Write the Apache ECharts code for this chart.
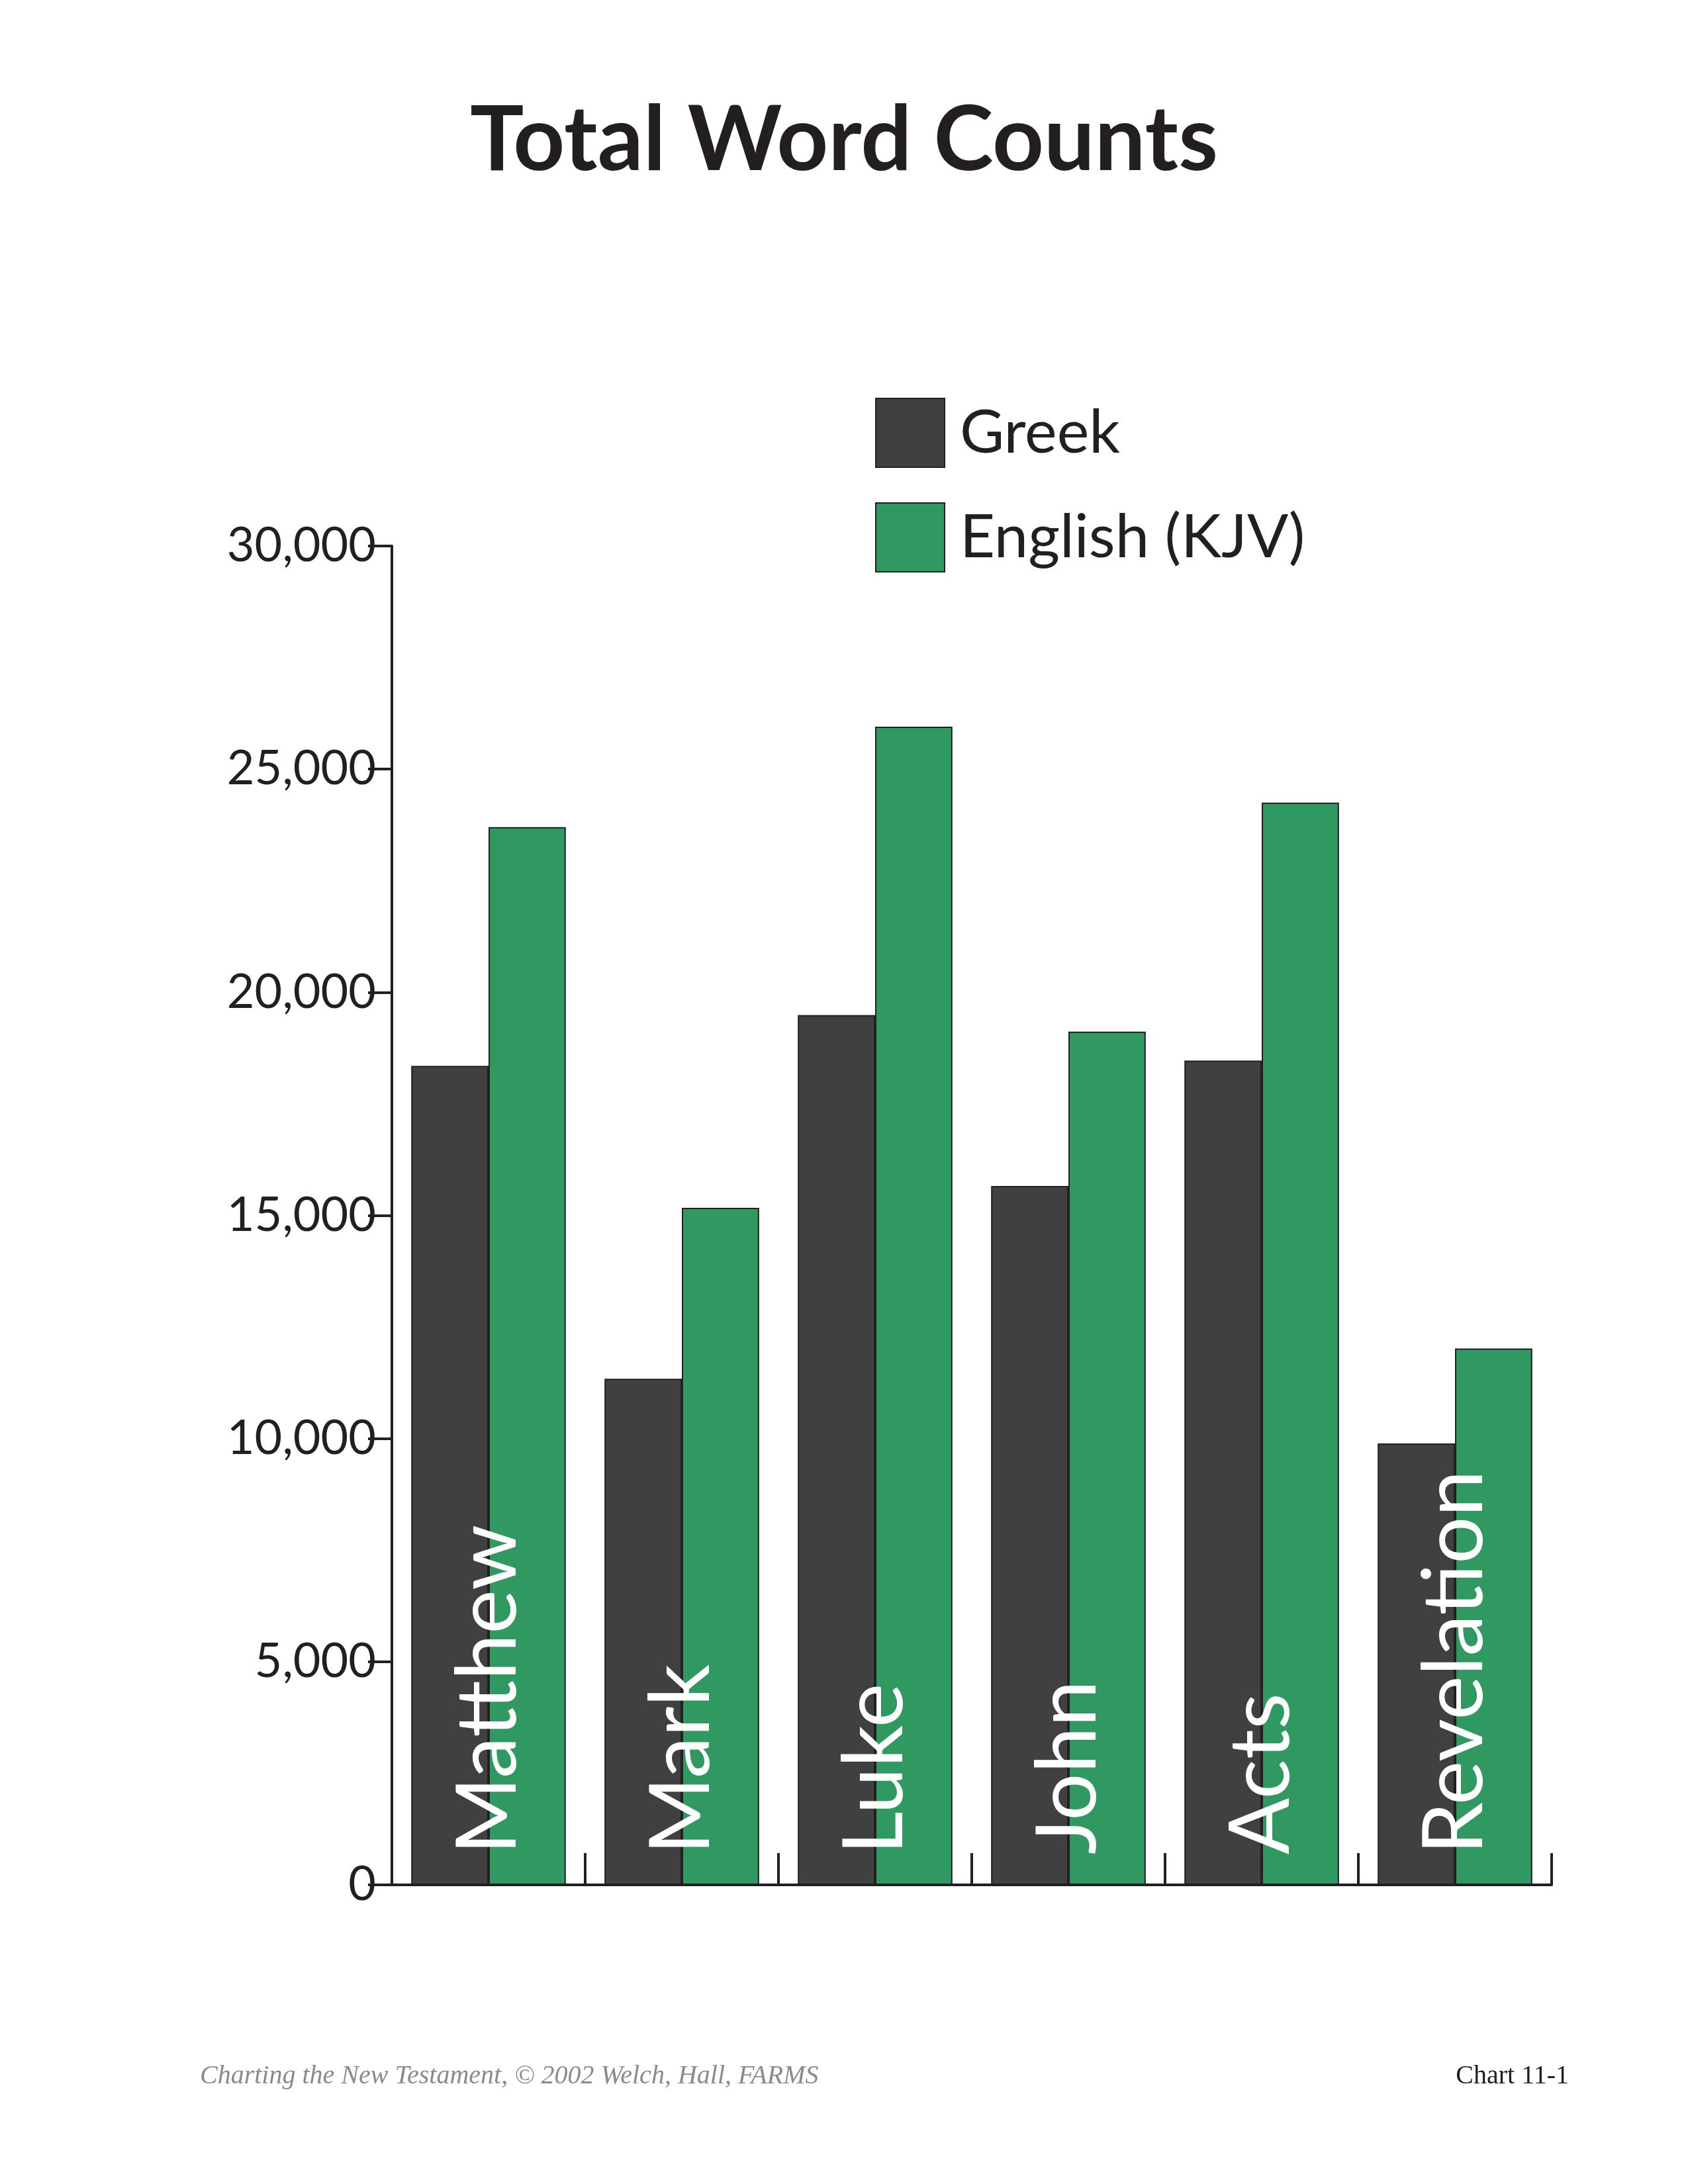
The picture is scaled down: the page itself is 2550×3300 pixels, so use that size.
<!DOCTYPE html>
<html>
<head>
<meta charset="utf-8">
<script src="https://cdn.jsdelivr.net/npm/echarts@6/dist/echarts.min.js"></script>
<style>html,body{margin:0;padding:0;background:#fff}#chart{width:2550px;height:3300px}</style>
</head>
<body>
<div id="chart"></div>
<script>
var books = ['Matthew', 'Mark', 'Luke', 'John', 'Acts', 'Revelation'];
var greek = [18350, 11340, 19490, 15660, 18470, 9890];
var english = [23700, 15170, 25950, 19120, 24250, 12020];
var yTicks = [0, 5000, 10000, 15000, 20000, 25000, 30000];

var myChart = echarts.init(document.getElementById('chart'));
var font = 'Lato';
var option = {
	backgroundColor: '#fff',
	title: {
		text: 'Total Word Counts',
		left: 'center',
		top: 140,
		textStyle: { fontFamily: 'Lato', fontWeight: 'bold', fontSize: 136, color: '#231f20' }
	},
	legend: {
		left: 1317,
		top: 596,
		orient: 'vertical',
		itemWidth: 104,
		itemHeight: 104,
		itemGap: 52,
		icon: 'rect',
		textStyle: { fontFamily: font, fontSize: 92, color: '#231f20', padding: [0, 0, 0, 18] },
		data: ['Greek', 'English (KJV)']
	},
	grid: { left: 592, right: 206, top: 825, bottom: 452, containLabel: false },
	xAxis: {
		type: 'category',
		data: books,
		axisLine: { lineStyle: { color: '#231f20', width: 4 } },
		axisTick: { show: true, inside: true, length: 48, lineStyle: { color: '#231f20', width: 4 } },
		axisLabel: {
			inside: true, rotate: 90, margin: 46,
			color: '#fff', fontFamily: font, fontSize: 126
		},
		z: 10
	},
	yAxis: {
		type: 'value',
		min: 0, max: 30000, interval: 5000,
		axisLine: { show: true, lineStyle: { color: '#231f20', width: 4 } },
		axisTick: { show: true, length: 36, lineStyle: { color: '#231f20', width: 4 } },
		splitLine: { show: false },
		axisLabel: {
			margin: 24, fontFamily: font, fontSize: 72, color: '#231f20',
			formatter: function(v) { return yTicks.indexOf(v) >= 0 ? v.toLocaleString('en-US') : ''; }
		}
	},
	series: [{
		name: 'Greek',
		type: 'bar',
		data: greek,
		barGap: '0%',
		barCategoryGap: '20%',
		itemStyle: { color: '#404041', borderColor: '#231f20', borderWidth: 2 }
	}, {
		name: 'English (KJV)',
		type: 'bar',
		data: english,
		itemStyle: { color: '#2f9961', borderColor: '#231f20', borderWidth: 2 }
	}],
	graphic: [{
		type: 'text', left: 302, top: 3117,
		style: { text: 'Charting the New Testament, © 2002 Welch, Hall, FARMS', fontFamily: 'Liberation Serif', fontStyle: 'italic', fontSize: 40, fill: '#8a8a8a' }
	}, {
		type: 'text', right: 180, top: 3117,
		style: { text: 'Chart 11-1', fontFamily: 'Liberation Serif', fontSize: 40, fill: '#231f20' }
	}]
};
myChart.setOption(option);
</script>
</body>
</html>
